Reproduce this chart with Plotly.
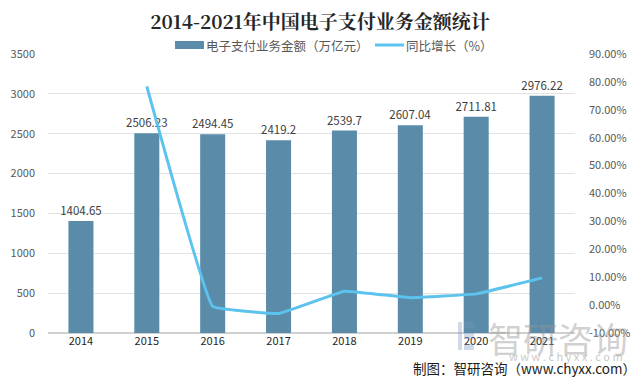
import plotly.graph_objects as go

years = ["2014", "2015", "2016", "2017", "2018", "2019", "2020", "2021"]
amount = [1404.65, 2506.23, 2494.45, 2419.2, 2539.7, 2607.04, 2711.81, 2976.22]
amount_labels = ["1404.65", "2506.23", "2494.45", "2419.2", "2539.7", "2607.04", "2711.81", "2976.22"]
growth_years = ["2015", "2016", "2017", "2018", "2019", "2020", "2021"]
growth = [78.4, -0.47, -3.02, 4.98, 2.65, 4.02, 9.75]
left_ticks = [0, 500, 1000, 1500, 2000, 2500, 3000, 3500]
right_ticks = [-10, 0, 10, 20, 30, 40, 50, 60, 70, 80, 90]

bar_name = "电子支付业务金额（万亿元）"
line_name = "同比增长（%）"
bar_color = "#5A8CA9"
line_color = "#5BC3EE"

font_family = "Noto Sans CJK SC, Noto Sans, sans-serif"

W, H = 640, 384
ML, MR, MT, MB = 48, 65, 54, 51
PW, PH = W - ML - MR, H - MT - MB

def px_x(x):
    return (x - ML) / PW

def px_y(y):
    return (H - MB - y) / PH

fig = go.Figure()
fig.add_trace(go.Bar(
    x=years, y=amount, name=bar_name,
    marker=dict(color=bar_color, line=dict(width=0)),
    text=amount_labels, textposition="outside", cliponaxis=False, constraintext="none",
    textfont=dict(size=11.5, color="#404040"), width=0.38, showlegend=False,
))
fig.add_trace(go.Scatter(
    x=growth_years, y=growth, name=line_name, yaxis="y2", showlegend=False,
    mode="lines", line=dict(color=line_color, width=3, shape="spline", smoothing=0.2),
))

fig.update_layout(
    width=W, height=H,
    margin=dict(l=ML, r=MR, t=MT, b=MB),
    paper_bgcolor="white", plot_bgcolor="white",
    font=dict(family=font_family, color="#595959"),
    title=dict(text="<b>2014-2021年中国电子支付业务金额统计</b>", x=0.5, xanchor="center",
               y=1 - 22 / H, yanchor="middle",
               font=dict(size=19, color="#262626", family="Noto Serif CJK SC, Noto Sans CJK SC, serif")),
    showlegend=False,
    xaxis=dict(type="category", tickfont=dict(size=11, color="#262626"),
               showgrid=False, showline=False, ticks="", automargin=False),
    yaxis=dict(range=[0, 3500], tickvals=left_ticks, ticktext=[str(v) for v in left_ticks],
               showgrid=True, gridcolor="#E2E2E2", gridwidth=1, zeroline=True,
               zerolinecolor="#D0D0D0", tickfont=dict(size=11, color="#595959"), ticks="",
               ticklabelstandoff=12, automargin=False),
    yaxis2=dict(range=[-10, 90], overlaying="y", side="right", tickvals=right_ticks,
                ticktext=[f"{v:.2f}%" for v in right_ticks], showgrid=False, zeroline=False,
                tickfont=dict(size=11, color="#595959"), ticks="", ticklabelstandoff=13,
                automargin=False),
)

# manual legend
fig.add_shape(type="rect", xref="paper", yref="paper",
              x0=px_x(175), x1=px_x(204), y0=px_y(49), y1=px_y(41),
              fillcolor=bar_color, line=dict(width=0))
fig.add_annotation(text=bar_name, xref="paper", yref="paper", x=px_x(204), y=px_y(45),
                   xanchor="left", yanchor="middle", showarrow=False,
                   font=dict(size=12.5, color="#595959"))
fig.add_shape(type="line", xref="paper", yref="paper",
              x0=px_x(375), x1=px_x(404), y0=px_y(45), y1=px_y(45),
              line=dict(color=line_color, width=3))
fig.add_annotation(text=line_name, xref="paper", yref="paper", x=px_x(404), y=px_y(45),
                   xanchor="left", yanchor="middle", showarrow=False,
                   font=dict(size=12.5, color="#595959"))

# watermark logo and text
for (x0, x1, y0, y1) in [(458, 462, 322, 350), (464, 474, 322, 328), (464, 474, 333, 339), (464, 474, 344, 350)]:
    fig.add_shape(type="rect", xref="paper", yref="paper",
                  x0=px_x(x0), x1=px_x(x1), y0=px_y(y1), y1=px_y(y0),
                  fillcolor="rgba(120,150,190,0.35)", line=dict(width=0))
fig.add_annotation(text="智研咨询", xref="paper", yref="paper", x=px_x(630), y=px_y(337),
                   xanchor="right", yanchor="middle", showarrow=False,
                   font=dict(size=35, color="rgba(150,150,150,0.45)"))
fig.add_annotation(text="w w w . c h y x x . c o m", xref="paper", yref="paper", x=px_x(625), y=px_y(356),
                   xanchor="right", yanchor="middle", showarrow=False,
                   font=dict(size=11, color="rgba(150,150,150,0.55)"))
fig.add_annotation(text="制图：智研咨询（www.chyxx.com）", xref="paper", yref="paper", x=px_x(638), y=px_y(368),
                   xanchor="right", yanchor="middle", showarrow=False,
                   font=dict(size=13.5, color="#1a1a1a"))

fig.write_html("out.html", config={"displayModeBar": False},
               post_script="document.body.style.margin='0';document.body.style.overflow='hidden';")
